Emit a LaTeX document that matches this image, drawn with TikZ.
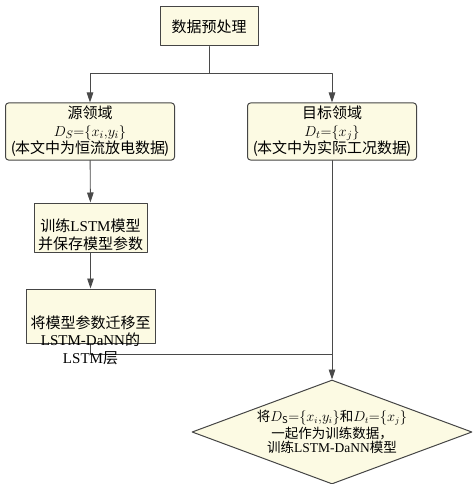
\documentclass[tikz,border=0pt]{standalone}
\usepackage{fontspec}
\setmainfont{Noto Sans CJK SC}
\newfontfamily\lat{Liberation Serif}
\usepackage{xcolor}
\usepackage{tikz}
\usetikzlibrary{arrows.meta,shapes.geometric}
\definecolor{boxfill}{HTML}{FCFAE3}
\definecolor{boxline}{HTML}{454545}
\definecolor{linkgray}{HTML}{4A4A4A}
\tikzset{
  stepbox/.style={draw=boxline, fill=boxfill, line width=1pt, inner sep=0pt, align=center, font=\fontsize{15}{17.5}\selectfont},
  roundbox/.style={stepbox, rounded corners=3pt},
  boxtext/.style={inner sep=0pt, align=center, font=\fontsize{15}{17.5}\selectfont},
  decide/.style={diamond, draw=boxline, fill=boxfill, line width=1pt, inner sep=0pt, aspect=2.69, align=center, font=\fontsize{13.5}{14.5}\selectfont},
  link/.style={draw=linkgray, line width=0.9pt},
  arr/.style={link, -{Triangle[length=10pt,width=6.5pt]}},
  every picture/.style={line cap=round, line join=round}
}
\begin{document}
\begin{tikzpicture}[x=1pt,y=-1pt]
  \useasboundingbox (0,0) rectangle (474,484);
  % boxes
  \node[stepbox, minimum width=98pt, minimum height=39pt] (prep) at (209,26.5) {数据预处理};
  \node[roundbox, minimum width=169pt, minimum height=57pt] (src) at (90,131.5)
    {源领域\\ $D_S{=}\{x_i{,}y_i\}$\\ ({\kern-1pt}本文中为恒流放电数据{\kern-1pt})};
  \node[roundbox, minimum width=169pt, minimum height=57pt] (tgt) at (332,131.5)
    {目标领域\\ $D_t{=}\{x_j\}$\\ ({\kern-1pt}本文中为实际工况数据{\kern-1pt})};
  \node[stepbox, minimum width=113pt, minimum height=49pt] (train) at (90.5,227.5) {};
  \node[boxtext] (trainlbl) at (90.5,235) {训练{\lat LSTM}模型\\ 并保存模型参数};
  \node[stepbox, minimum width=129pt, minimum height=54pt] (transfer) at (90.5,316) {};
  \node[decide, minimum width=280pt, minimum height=104pt] (fuse) at (332,432)
    {将$D_{\mathrm{S}}{=}\{x_i{,}y_i\}$和$D_t{=}\{x_j\}$\\ 一起作为训练数据，\\ 训练{\lat LSTM-DaNN}模型};
  % connectors
  \coordinate (fork) at (209,73);
  \coordinate (merge) at (332,354);
  \draw[link] (prep) -- (fork);
  \draw[arr] (fork) -| (src);
  \draw[arr] (fork) -| (tgt);
  \draw[arr] (src) -- (train);
  \draw[arr] (train) -- (transfer);
  \draw[link] (transfer.south) |- (merge);
  \draw[arr] (tgt) -- (fuse);
  \node[boxtext] (transferlbl) at (90.5,340) {将模型参数迁移至\\ {\lat LSTM-DaNN}的\\ {\lat LSTM}层};
\end{tikzpicture}
\end{document}
